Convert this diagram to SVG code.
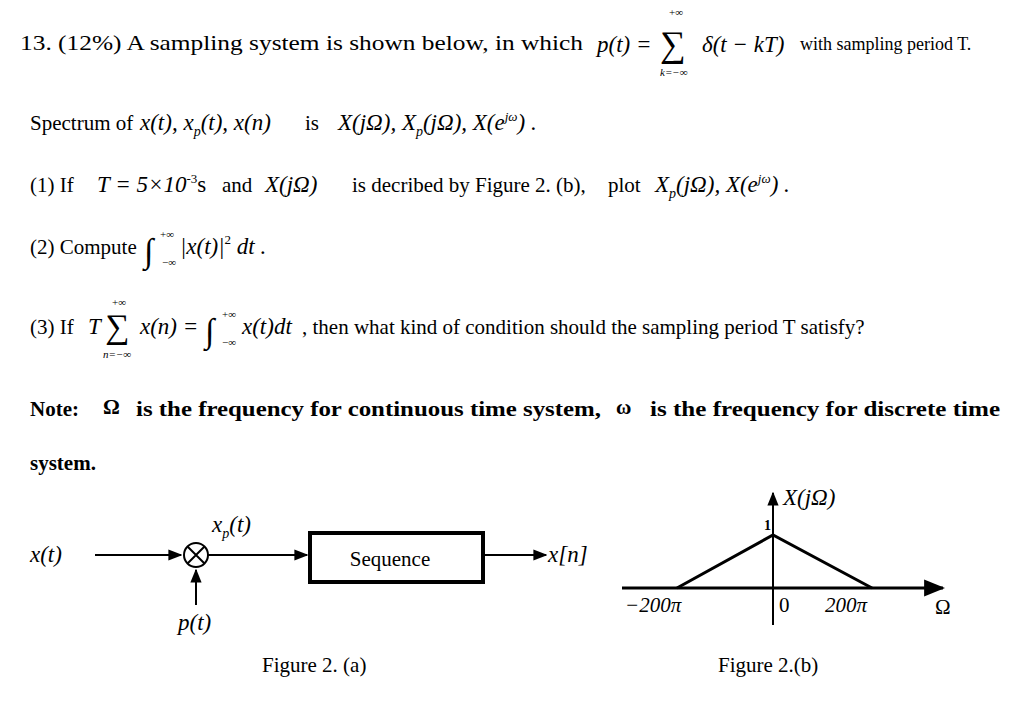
<svg xmlns="http://www.w3.org/2000/svg" width="1024" height="720" viewBox="0 0 1024 720">
<style>
text{font-family:"Liberation Serif","Times New Roman",serif;fill:#000}
.t{font-size:21px}
.m{font-size:23px;font-style:italic}
.s{font-size:11px}
.b{font-size:21px;font-weight:bold}
.ln{stroke:#000;stroke-width:2;fill:none}
</style>
<defs><marker id="ar" viewBox="0 0 10 10" refX="9" refY="5" markerWidth="7" markerHeight="7" orient="auto"><path d="M0,1 L10,5 L0,9 z" fill="#000"/></marker></defs>
<rect width="1024" height="720" fill="#fff"/>
<g id="text">
<text class="t" x="20" y="50" font-size="24" textLength="563" lengthAdjust="spacingAndGlyphs">13.  (12%) A sampling system is shown below, in which</text>
<text class="m" x="597" y="52">p(t) =</text>
<text x="660" y="56" font-size="36">∑</text>
<text class="s" x="669" y="16">+∞</text>
<text class="s" x="660" y="76" font-style="italic">k=−∞</text>
<text class="m" x="702" y="52">δ(t − kT)</text>
<text x="800" y="50" font-size="18">with sampling period T.</text>
<text class="t" x="30" y="130">Spectrum of</text>
<text class="m" x="140" y="130">x(t), x<tspan font-size="14" dy="6">p</tspan><tspan dy="-6">(t), x(n)</tspan></text>
<text class="t" x="305" y="130">is</text>
<text class="m" x="338" y="130">X(jΩ), X<tspan font-size="14" dy="6">p</tspan><tspan dy="-6">(jΩ), X(e</tspan><tspan font-size="13" dy="-9">jω</tspan><tspan dy="9">) .</tspan></text>
<text class="t" x="30" y="192">(1) If</text>
<text class="m" x="97" y="192">T = 5×10<tspan font-size="13" dy="-9" font-style="normal">-3</tspan><tspan dy="9" font-style="normal">s</tspan></text>
<text class="t" x="222" y="192">and</text>
<text class="m" x="265" y="192">X(jΩ)</text>
<text class="t" x="352" y="192">is decribed by Figure 2. (b),</text>
<text class="t" x="608" y="192">plot</text>
<text class="m" x="655" y="192">X<tspan font-size="14" dy="6">p</tspan><tspan dy="-6">(jΩ), X(e</tspan><tspan font-size="13" dy="-9">jω</tspan><tspan dy="9">) .</tspan></text>
<text class="t" x="30" y="254">(2) Compute</text>
<text x="144" y="262" font-size="34" font-style="italic">∫</text>
<text class="s" x="160" y="238">+∞</text>
<text class="s" x="162" y="266">−∞</text>
<text class="m" x="180" y="254">|x(t)|<tspan font-size="13" dy="-10" font-style="normal">2</tspan><tspan dy="10"> dt .</tspan></text>
<text class="t" x="30" y="334">(3) If</text>
<text class="m" x="88" y="334">T</text>
<text x="105" y="338" font-size="34">∑</text>
<text class="s" x="112" y="306">+∞</text>
<text class="s" x="103" y="358" font-style="italic">n=−∞</text>
<text class="m" x="140" y="334">x(n) =</text>
<text x="205" y="342" font-size="34" font-style="italic">∫</text>
<text class="s" x="222" y="318">+∞</text>
<text class="s" x="222" y="346">−∞</text>
<text class="m" x="242" y="334">x(t)dt</text>
<text class="t" x="302" y="334">, then what kind of condition should the sampling period T satisfy?</text>
<text class="b" x="30" y="416">Note:</text>
<text class="b" x="103" y="414">Ω</text>
<text class="b" x="136" y="416" textLength="465" lengthAdjust="spacingAndGlyphs" font-size="22">is the frequency for continuous time system,</text>
<text class="b" x="616" y="414" font-size="17">ω</text>
<text class="b" x="650" y="416" textLength="350" lengthAdjust="spacingAndGlyphs" font-size="22">is the frequency for discrete time</text>
<text class="b" x="30" y="470">system.</text>
</g>
<g id="connectors">
<line class="ln" x1="95" y1="555" x2="181" y2="555" marker-end="url(#ar)"/>
<line class="ln" x1="208" y1="555" x2="307" y2="555" marker-end="url(#ar)"/>
<line class="ln" x1="196" y1="605" x2="196" y2="570" marker-end="url(#ar)"/>
<line class="ln" x1="485" y1="555" x2="546" y2="555" marker-end="url(#ar)"/>
</g>
<g id="node-xt"><text class="m" x="30" y="562">x(t)</text></g>
<g id="node-mult">
<circle cx="196" cy="555" r="12" fill="#fff" stroke="#000" stroke-width="2"/>
<path d="M187.5,546.5 L204.5,563.5 M204.5,546.5 L187.5,563.5" class="ln"/>
<text class="m" x="212" y="532">x<tspan font-size="14" dy="6">p</tspan><tspan dy="-6">(t)</tspan></text>
</g>
<g id="node-pt"><text class="m" x="178" y="630">p(t)</text></g>
<g id="node-seq">
<rect x="310" y="533" width="173" height="49" fill="#fff" stroke="#000" stroke-width="4"/>
<text class="t" x="390" y="566" text-anchor="middle" font-size="24">Sequence</text>
</g>
<g id="node-xn"><text class="m" x="548" y="562">x[n]</text></g>
<g id="fig-b">
<line x1="622" y1="588" x2="943" y2="588" stroke="#000" stroke-width="3" marker-end="url(#ar)"/>
<line class="ln" x1="773" y1="625" x2="773" y2="493" marker-end="url(#ar)"/>
<path d="M677,588 L773,535 L872,588" stroke="#000" stroke-width="3" fill="none"/>
<text x="764" y="530" font-size="14" font-weight="bold" font-family="Liberation Sans,sans-serif">1</text>
<text class="m" x="783" y="505">X(jΩ)</text>
<text class="t" x="625" y="612" font-style="italic">−200π</text>
<text class="t" x="779" y="612">0</text>
<text class="t" x="825" y="612" font-style="italic">200π</text>
<text class="t" x="935" y="614">Ω</text>
</g>
<g id="captions">
<text class="t" x="262" y="672" font-size="20">Figure 2. (a)</text>
<text class="t" x="718" y="672" font-size="20">Figure 2.(b)</text>
</g>
</svg>
